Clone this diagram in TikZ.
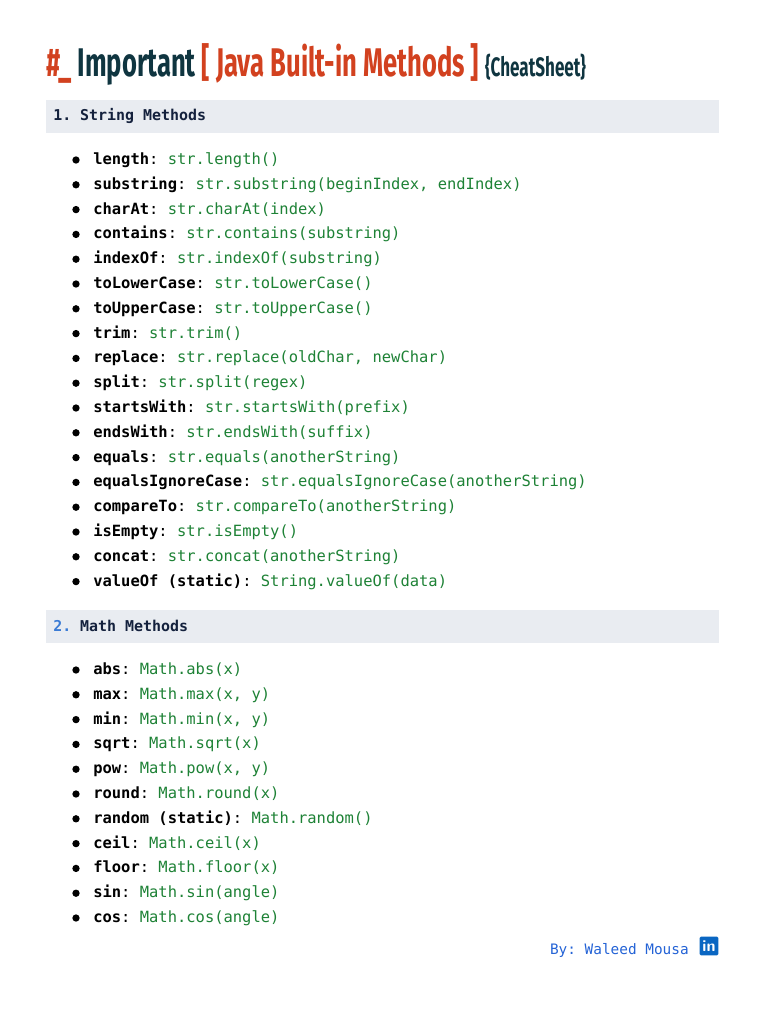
\documentclass[tikz,border=0pt]{standalone}
\usepackage{fontspec}
\setmonofont{DejaVu Sans Mono}
\newfontfamily\titlefont{Fira Sans}
\definecolor{tdark}{HTML}{0F3540}
\definecolor{torange}{HTML}{D2411F}
\definecolor{codegreen}{HTML}{1E8236}
\definecolor{hdrbg}{HTML}{E9ECF1}
\definecolor{hdrtext}{HTML}{14213D}
\definecolor{numblue}{HTML}{3A7BD5}
\definecolor{byblue}{HTML}{2463D6}
\definecolor{lnk}{HTML}{0A66C2}
\begin{document}
\begin{tikzpicture}[x=0.75pt,y=-0.75pt,
  item/.style={anchor=base west,inner sep=0pt,font=\ttfamily\fontsize{11.6}{13}\selectfont},
  bul/.style={circle,fill=black,inner sep=0pt,minimum size=5.5pt},
  hdr/.style={anchor=base west,inner sep=0pt,font=\ttfamily\bfseries\fontsize{11.2}{13}\selectfont,text=hdrtext}]
\useasboundingbox (0,0) rectangle (768,1024);
\fill[white] (0,0) rectangle (768,1024);
\node[anchor=base west,inner sep=0pt] (title) at (46,76) {\scalebox{0.64}[1]{\titlefont\bfseries\fontsize{30}{34}\selectfont\color{torange}\#\_ \color{tdark}Important \color{torange}[ Java Built-in Methods ] \color{tdark}\fontsize{20}{22}\selectfont\{CheatSheet\}}};
\fill[hdrbg] (46,100) rectangle (719,133);
\node[hdr] (h1) at (53,120) {1. String Methods};
\fill[hdrbg] (46,610) rectangle (719,643);
\node[hdr] (h2) at (53,631) {\textcolor{numblue}{2.} Math Methods};
\foreach \n/\b [count=\i from 0] in {
 length/str.length(),
 substring/{str.substring(beginIndex, endIndex)},
 charAt/str.charAt(index),
 contains/str.contains(substring),
 indexOf/str.indexOf(substring),
 toLowerCase/str.toLowerCase(),
 toUpperCase/str.toUpperCase(),
 trim/str.trim(),
 replace/{str.replace(oldChar, newChar)},
 split/str.split(regex),
 startsWith/str.startsWith(prefix),
 endsWith/str.endsWith(suffix),
 equals/str.equals(anotherString),
 equalsIgnoreCase/str.equalsIgnoreCase(anotherString),
 compareTo/str.compareTo(anotherString),
 isEmpty/str.isEmpty(),
 concat/str.concat(anotherString),
 {valueOf (static)}/String.valueOf(data)}{
  \node[bul] (sb\i) at (76,{160+24.8*\i}) {};
  \node[item] (s\i) at (93,{164.5+24.8*\i}) {\textbf{\n}: \textcolor{codegreen}{\b}};
}
\foreach \n/\b [count=\i from 0] in {
 abs/Math.abs(x),
 max/{Math.max(x, y)},
 min/{Math.min(x, y)},
 sqrt/Math.sqrt(x),
 pow/{Math.pow(x, y)},
 round/Math.round(x),
 {random (static)}/Math.random(),
 ceil/Math.ceil(x),
 floor/Math.floor(x),
 sin/Math.sin(angle),
 cos/Math.cos(angle)}{
  \node[bul] (mb\i) at (76,{670+24.8*\i}) {};
  \node[item] (m\i) at (93,{674.5+24.8*\i}) {\textbf{\n}: \textcolor{codegreen}{\b}};
}
\node[anchor=base east,inner sep=0pt,font=\ttfamily\fontsize{10.8}{12}\selectfont,text=byblue] (by) at (689,954) {By: Waleed Mousa};
\node[fill=lnk,rounded corners=1pt,minimum size=14pt,inner sep=0pt,text=white,font=\sffamily\bfseries\fontsize{12}{12}\selectfont] (li) at (709,946) {in};
\end{tikzpicture}
\end{document}
